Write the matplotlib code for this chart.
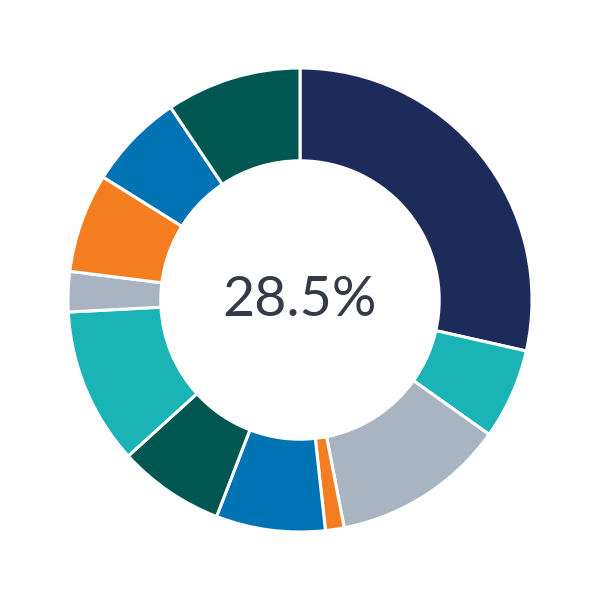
import matplotlib
matplotlib.use("Agg")
import matplotlib.pyplot as plt

values = [28.5, 6.3, 12.1, 1.3, 7.6, 7.4, 10.9, 2.8, 6.9, 6.7, 9.4]
colors = ["#1c2b5a", "#1bb4b6", "#a9b4c3", "#f47d20", "#0073b4", "#005752",
          "#1bb4b6", "#a9b4c3", "#f47d20", "#0073b4", "#005752"]
center_label = "28.5%"

fig = plt.figure(figsize=(6, 6), dpi=100)
ax = fig.add_axes([0, 0, 1, 1])
ax.pie(values, colors=colors, startangle=90, counterclock=False,
       radius=1.0, wedgeprops=dict(width=0.4, edgecolor="white", linewidth=2.2))
ax.text(0, 0, center_label, ha="center", va="center", fontsize=40,
        color="#343a46", family=["Lato", "DejaVu Sans"])
lim = 1.293
ax.set_xlim(-lim, lim)
ax.set_ylim(-lim, lim)
ax.set_aspect("equal")
ax.axis("off")
fig.savefig("out.png", dpi=100, facecolor="white")
